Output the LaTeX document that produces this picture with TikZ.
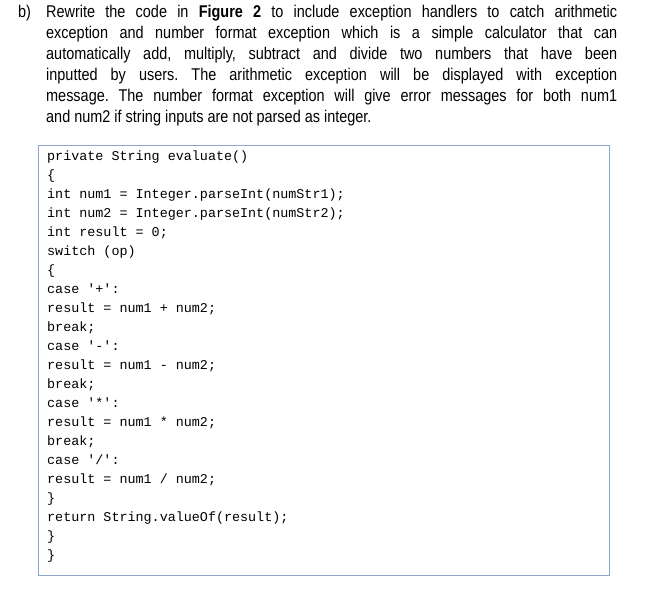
\documentclass[tikz,border=0pt]{standalone}
\usepackage{fontspec}
\setmainfont{Liberation Sans}[FakeStretch=0.85]
\setmonofont{Liberation Mono}
\definecolor{boxc}{RGB}{140,165,200}
\frenchspacing
\begin{document}
\begin{tikzpicture}[x=1pt,y=-1pt,
  para/.style={anchor=north west,inner sep=0pt,text width=571pt,align=justify,font=\fontsize{17}{20.9}\selectfont},
  code/.style={anchor=north west,inner sep=0pt,align=left,font=\ttfamily\fontsize{13.4}{19.0}\selectfont},
  codebox/.style={draw=boxc,line width=0.8pt}]
\useasboundingbox (0,0) rectangle (666,603);
\node[anchor=north west,inner sep=0pt,font=\fontsize{17}{20.9}\selectfont] (lbl) at (18,5) {b)};
\node[para] (txt) at (46,5) {Rewrite the code in \textbf{Figure 2} to include exception handlers to catch arithmetic\linebreak exception and number format exception which is a simple calculator that can\linebreak automatically add, multiply, subtract and divide two numbers that have been\linebreak inputted by users. The arithmetic exception will be displayed with exception\linebreak message. The number format exception will give error messages for both num1\linebreak and num2 if string inputs are not parsed as integer.};
\draw[codebox] (38,145) rectangle (609,575);
\node[code] (src) at (47,151) {private String evaluate()\\
\{\\
int num1 = Integer.parseInt(numStr1);\\
int num2 = Integer.parseInt(numStr2);\\
int result = 0;\\
switch (op)\\
\{\\
case '+':\\
result = num1 + num2;\\
break;\\
case '-':\\
result = num1 - num2;\\
break;\\
case '*':\\
result = num1 * num2;\\
break;\\
case '/':\\
result = num1 / num2;\\
\}\\
return String.valueOf(result);\\
\}\\
\}};
\end{tikzpicture}
\end{document}
